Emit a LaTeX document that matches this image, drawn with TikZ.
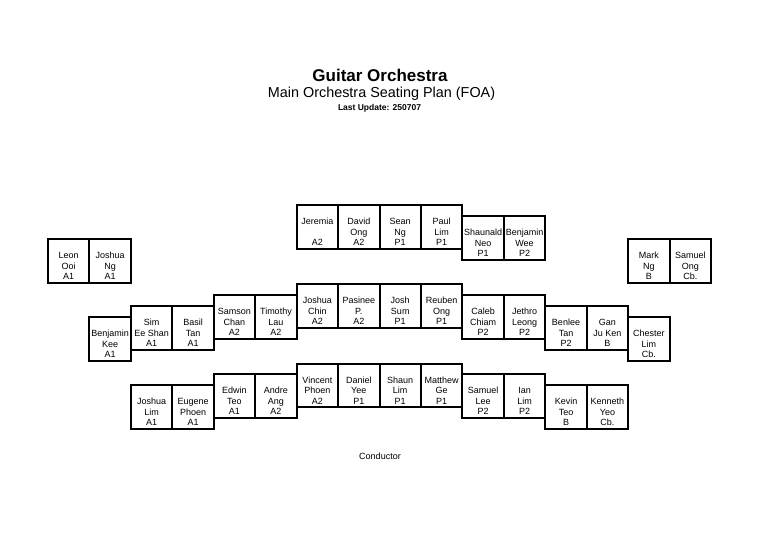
\documentclass[tikz,border=0pt]{standalone}
\usepackage{fontspec}
\setmainfont{Liberation Sans}
\tikzset{
  seatbox/.style={draw=black, line width=2pt, minimum width=41.44pt, minimum height=43.5pt, inner sep=0pt, outer sep=0pt},
  seattext/.style={anchor=base, inner sep=0pt, font=\fontsize{9}{10.7}\selectfont},
}
\newcommand\seat[6]{%
  \pgfmathsetmacro\sx{48+41.44*#2+20.72}%
  \pgfmathsetmacro\sy{#3+21.75}%
  \pgfmathsetmacro\la{#3+19.5}%
  \pgfmathsetmacro\lb{#3+30.2}%
  \pgfmathsetmacro\lc{#3+40.8}%
  \node[seatbox] (#1) at (\sx,\sy) {};
  \node[seattext] (#1a) at (\sx,\la) {#4};
  \node[seattext] (#1b) at (\sx,\lb) {#5};
  \node[seattext] (#1c) at (\sx,\lc) {#6};
}
\begin{document}
\begin{tikzpicture}[x=1pt,y=-1pt]
\useasboundingbox (0,0) rectangle (768,543);
\fill[white] (0,0) rectangle (768,543);
% titles
\node[inner sep=0pt, font=\fontsize{17}{20}\selectfont\bfseries] (title) at (380,75) {Guitar Orchestra};
\node[inner sep=0pt, font=\fontsize{14.4}{17}\selectfont] (subtitle) at (381.5,93.5) {Main Orchestra Seating Plan (FOA)};
\node[inner sep=0pt, font=\fontsize{8.5}{10}\selectfont\bfseries] (update) at (379.5,108) {Last Update: 250707};
% top row
\seat{jer}{6}{205}{Jeremia}{}{A2}
\seat{dav}{7}{205}{David}{Ong}{A2}
\seat{sea}{8}{205}{Sean}{Ng}{P1}
\seat{pau}{9}{205}{Paul}{Lim}{P1}
\seat{sha}{10}{216}{Shaunald}{Neo}{P1}
\seat{bwe}{11}{216}{Benjamin}{Wee}{P2}
% side groups
\seat{leo}{0}{239}{Leon}{Ooi}{A1}
\seat{jng}{1}{239}{Joshua}{Ng}{A1}
\seat{mar}{14}{239}{Mark}{Ng}{B}
\seat{sam}{15}{239}{Samuel}{Ong}{Cb.}
% middle row
\seat{bke}{1}{317}{Benjamin}{Kee}{A1}
\seat{sim}{2}{306}{Sim}{Ee Shan}{A1}
\seat{bas}{3}{306}{Basil}{Tan}{A1}
\seat{sac}{4}{295}{Samson}{Chan}{A2}
\seat{tim}{5}{295}{Timothy}{Lau}{A2}
\seat{jch}{6}{284}{Joshua}{Chin}{A2}
\seat{pas}{7}{284}{Pasinee}{P.}{A2}
\seat{jos}{8}{284}{Josh}{Sum}{P1}
\seat{reu}{9}{284}{Reuben}{Ong}{P1}
\seat{cal}{10}{295}{Caleb}{Chiam}{P2}
\seat{jet}{11}{295}{Jethro}{Leong}{P2}
\seat{ben}{12}{306}{Benlee}{Tan}{P2}
\seat{gan}{13}{306}{Gan}{Ju Ken}{B}
\seat{che}{14}{317}{Chester}{Lim}{Cb.}
% bottom row
\seat{jli}{2}{385}{Joshua}{Lim}{A1}
\seat{eug}{3}{385}{Eugene}{Phoen}{A1}
\seat{edw}{4}{374}{Edwin}{Teo}{A1}
\seat{and}{5}{374}{Andre}{Ang}{A2}
\seat{vin}{6}{363.5}{Vincent}{Phoen}{A2}
\seat{dan}{7}{363.5}{Daniel}{Yee}{P1}
\seat{shl}{8}{363.5}{Shaun}{Lim}{P1}
\seat{mat}{9}{363.5}{Matthew}{Ge}{P1}
\seat{sle}{10}{374}{Samuel}{Lee}{P2}
\seat{ian}{11}{374}{Ian}{Lim}{P2}
\seat{kev}{12}{385}{Kevin}{Teo}{B}
\seat{ken}{13}{385}{Kenneth}{Yeo}{Cb.}
% conductor
\node[inner sep=0pt, font=\fontsize{9}{11}\selectfont] (cond) at (380,456.7) {Conductor};
\end{tikzpicture}
\end{document}
